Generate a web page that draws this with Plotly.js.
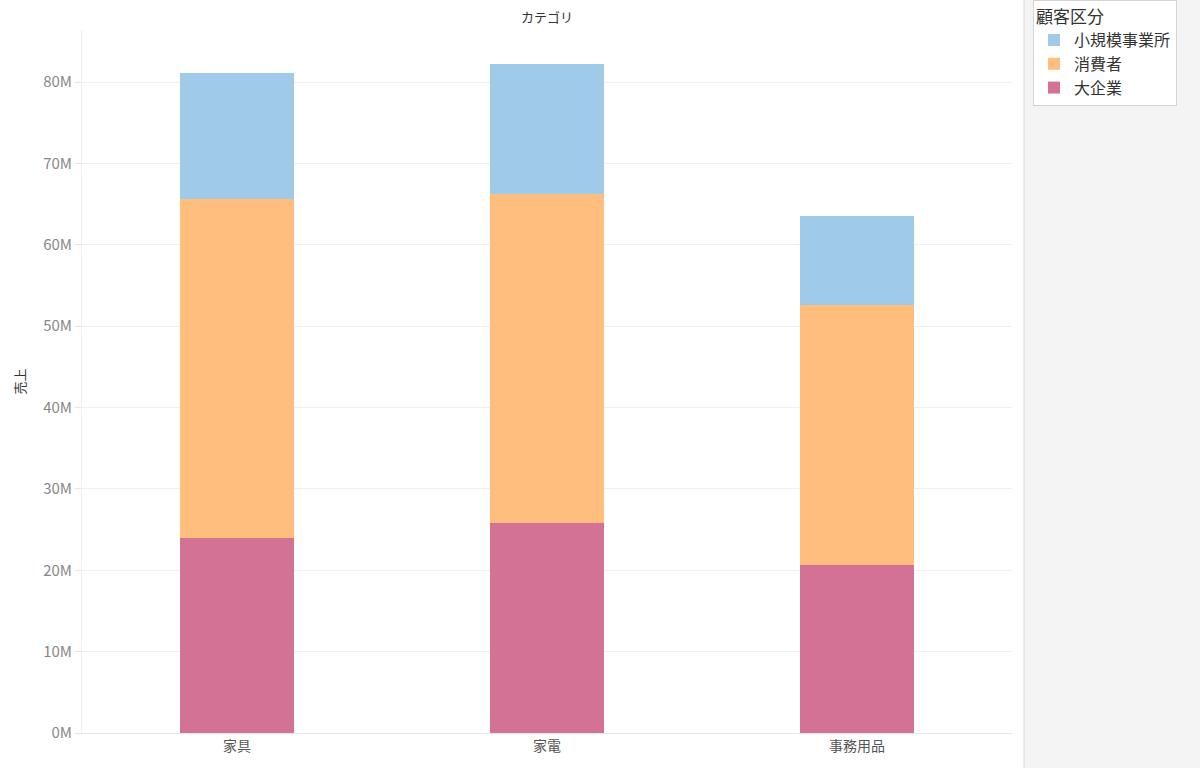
<!DOCTYPE html>
<html><head><meta charset="utf-8">
<script src="https://cdn.plot.ly/plotly-3.0.1.min.js"></script>
<style>html,body{margin:0;padding:0;background:#fff}#c{width:1200px;height:768px}</style>
</head><body><div id="c"></div>
<script>
const categories = ['家具', '家電', '事務用品'];
const largeEnterprise = [24.0, 25.8, 20.6];   // 大企業 (M)
const consumer = [41.6, 40.5, 32.0];          // 消費者 (M)
const smallBusiness = [15.5, 15.9, 11.0];     // 小規模事業所 (M)
const seriesNames = ['大企業', '消費者', '小規模事業所'];
const seriesColors = ['#d37295', '#ffbe7d', '#a0cbe8'];
const tickVals = [0, 10, 20, 30, 40, 50, 60, 70, 80];
const tickText = ['0M', '10M', '20M', '30M', '40M', '50M', '60M', '70M', '80M'];

const font = '"Noto Sans CJK JP", "Noto Sans", sans-serif';
const series = [largeEnterprise, consumer, smallBusiness];
const M = 1e6;
const traces = series.map((vals, i) => ({
  type: 'bar', name: seriesNames[i], x: categories, y: vals.map(v => v * M),
  marker: {color: seriesColors[i], line: {width: 0}}, hoverinfo: 'x+y+name'
}));

const L = 82, R = 1012, T = 30, B = 733;
const pw = R - L, ph = B - T;
const layout = {
  width: 1200, height: 768,
  margin: {l: L, r: 1200 - R, t: T, b: 768 - B, pad: 0, autoexpand: false},
  paper_bgcolor: '#ffffff', plot_bgcolor: '#ffffff',
  barmode: 'stack', bargap: 0.63,
  font: {family: font, size: 14, color: '#555'},
  title: {text: 'カテゴリ', x: 547 / 1200, xanchor: 'center', y: 1 - 17 / 768, yanchor: 'middle',
          font: {family: font, size: 13, color: '#333'}},
  xaxis: {showgrid: false, zeroline: false, showline: true, linecolor: '#e6e6e6', linewidth: 1,
          tickfont: {family: font, size: 14, color: '#555'}, ticks: '', fixedrange: true},
  yaxis: {range: [0, 86.4 * M], tickvals: tickVals.map(v => v * M), ticktext: tickText,
          showgrid: true, gridcolor: '#f0f0f0', gridwidth: 1, zeroline: true, zerolinecolor: '#ececec',
          showline: true, linecolor: '#f0f0f0', ticks: 'outside', ticklen: 6, tickcolor: '#e6e6e6',
          tickfont: {family: font, size: 15, color: '#888'},
          title: {text: '売上', standoff: 14, font: {family: font, size: 13, color: '#333'}}},
  legend: {xref: 'container', yref: 'container', x: 1033 / 1200, xanchor: 'left', y: 1, yanchor: 'top',
           bgcolor: '#ffffff', bordercolor: '#d4d4d4', borderwidth: 1,
           traceorder: 'reversed', itemwidth: 30, tracegroupgap: 0,
           font: {family: font, size: 16, color: '#333'},
           title: {text: '顧客区分', font: {family: font, size: 17, color: '#333'}}},
  shapes: [
    {type: 'rect', xref: 'paper', yref: 'paper', x0: (1024 - L) / pw, x1: (1200 - L) / pw,
     y0: -(768 - B) / ph, y1: 1 + T / ph, fillcolor: '#f4f4f4', line: {width: 0}, layer: 'below'},
    {type: 'line', xref: 'paper', yref: 'paper', x0: (1024 - L) / pw, x1: (1024 - L) / pw,
     y0: -(768 - B) / ph, y1: 1 + T / ph, line: {color: '#d8d8d8', width: 1}}
  ],
  showlegend: true
};
Plotly.newPlot('c', traces, layout, {displayModeBar: false, staticPlot: true});
</script></body></html>
